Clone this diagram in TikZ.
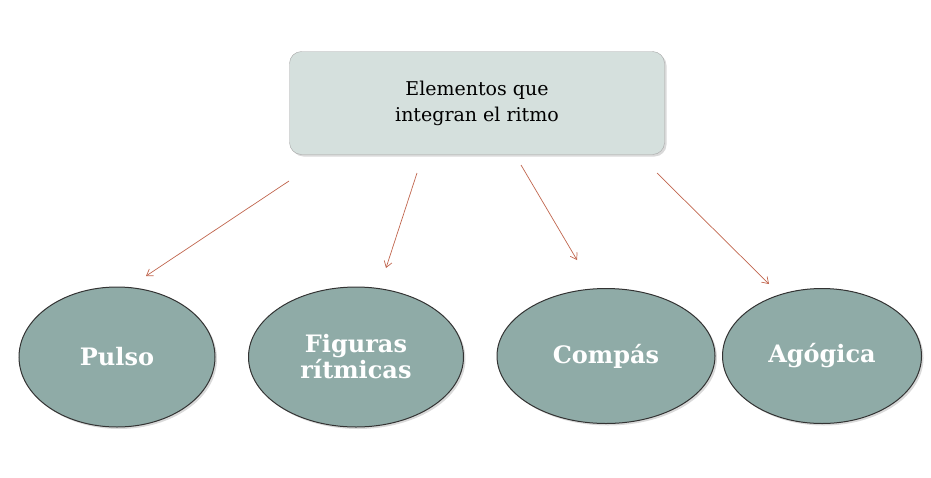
\documentclass[tikz,border=0pt]{standalone}
\usepackage{fontspec}
\setmainfont{DejaVu Serif}
\usetikzlibrary{shapes.geometric,arrows.meta,shadows}
\definecolor{boxfill}{HTML}{D5E0DD}
\definecolor{elfill}{HTML}{8FABA7}
\definecolor{arr}{HTML}{C0654D}
\tikzset{
 topbox/.style={draw=gray!70,fill=boxfill,rounded corners=12pt,minimum width=375pt,minimum height=103pt,align=center,font=\fontsize{19}{26}\selectfont,drop shadow={opacity=0.3,shadow xshift=2pt,shadow yshift=-2pt}},
 elbox/.style={ellipse,draw=black!80,line width=1pt,fill=elfill,text=white,align=center,font=\bfseries\fontsize{24}{26}\selectfont,drop shadow={opacity=0.3,shadow xshift=2pt,shadow yshift=-2pt}},
 link/.style={draw=arr,line width=0.7pt,-{Straight Barb[length=6pt,width=8pt]}}
}
\begin{document}
\begin{tikzpicture}[x=1pt,y=-1pt]
\useasboundingbox (0,0) rectangle (931,477);
\node[topbox] (top) at (477,103) {Elementos que\\integran el ritmo};
\node[elbox,minimum width=196pt,minimum height=140pt] (p) at (117,357) {Pulso};
\node[elbox,minimum width=215pt,minimum height=140pt,inner sep=0pt] (f) at (356,357) {Figuras\\rítmicas};
\node[elbox,minimum width=218pt,minimum height=135pt] (c) at (606,356) {Compás};
\node[elbox,minimum width=199pt,minimum height=135pt] (a) at (822,356) {Agógica};
\coordinate (s1) at (289,181); \coordinate (e1) at (146,276);
\coordinate (s2) at (417,173); \coordinate (e2) at (386,268);
\coordinate (s3) at (521,165); \coordinate (e3) at (577,260);
\coordinate (s4) at (657,173); \coordinate (e4) at (769,284);
\draw[link] (s1) -- (e1);
\draw[link] (s2) -- (e2);
\draw[link] (s3) -- (e3);
\draw[link] (s4) -- (e4);
\end{tikzpicture}
\end{document}
